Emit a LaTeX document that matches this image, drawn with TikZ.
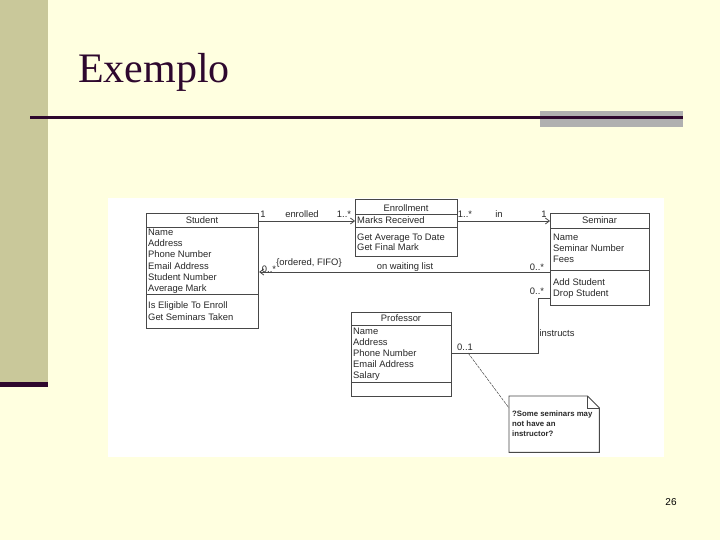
\documentclass[tikz,border=0pt]{standalone}
\usepackage{fontspec}
\setmainfont{Liberation Serif}
\setsansfont{Liberation Sans}
\usetikzlibrary{arrows.meta,calc}
\definecolor{bg}{RGB}{255,255,224}
\definecolor{barcol}{RGB}{201,200,154}
\definecolor{plum}{RGB}{46,8,46}
\definecolor{grayrect}{RGB}{176,176,176}
\definecolor{umlline}{RGB}{72,72,72}
\definecolor{umltext}{RGB}{40,40,40}
\begin{document}
\begin{tikzpicture}[x=1pt,y=-1pt,
  cls/.style={draw=umlline, line width=1.1pt, fill=white, inner sep=0pt, anchor=north west},
  divline/.style={draw=umlline, line width=0.9pt},
  txt/.style={font=\sffamily\fontsize{9.4}{11}\selectfont, text=umltext, inner sep=0pt},
  notetxt/.style={font=\sffamily\bfseries\fontsize{7.8}{10}\selectfont, text=umltext, inner sep=0pt, anchor=base west},
  assoc/.style={draw=umlline, line width=0.8pt},
  nav/.style={assoc, -{Straight Barb[length=4pt,width=6pt]}},
  anchorline/.style={draw=umlline, line width=0.5pt, dash pattern=on 3pt off 1pt},
  notebox/.style={draw=umlline, line width=0.9pt, fill=white}
]
\useasboundingbox (0,0) rectangle (720,540);
% slide background
\fill[bg] (0,0) rectangle (720,540);
\fill[barcol] (0,0) rectangle (48,382);
\fill[plum] (0,382) rectangle (48,387);
\fill[grayrect] (540,111) rectangle (683,127);
\fill[plum] (30,116) rectangle (683,119);
\node[font=\fontsize{42}{46}\selectfont, text=plum, inner sep=0pt, anchor=base west] (title) at (78,83) {Exemplo};
\node[font=\sffamily\fontsize{10}{12}\selectfont, text=black, inner sep=0pt, anchor=base] (pagenum) at (671,505) {26};
% diagram area
\fill[white] (108,198) rectangle (664,457);

% ---------- Student ----------
\node[cls, minimum width=112pt, minimum height=115pt] (student) at (146,213) {};
\draw[divline] (146,227) -- (258,227);
\draw[divline] (146,294) -- (258,294);
\node[txt, anchor=base] (stt) at (202,223.5) {Student};
\foreach \t [count=\i] in {Name, Address, Phone Number, Email Address, Student Number, Average Mark}
  \node[txt, anchor=base west] (sta\i) at (148,{235.5+11.2*(\i-1)}) {\t};
\node[txt, anchor=base west] (stm1) at (148,308.5) {Is Eligible To Enroll};
\node[txt, anchor=base west] (stm2) at (148,320) {Get Seminars Taken};

% ---------- Enrollment ----------
\node[cls, minimum width=102pt, minimum height=57pt] (enrollment) at (355,199) {};
\draw[divline] (355,214) -- (457,214);
\draw[divline] (355,227) -- (457,227);
\node[txt, anchor=base] (ent) at (406,211.3) {Enrollment};
\node[txt, anchor=base west] (ena1) at (357,223.5) {Marks Received};
\node[txt, anchor=base west] (enm1) at (357,240.5) {Get Average To Date};
\node[txt, anchor=base west] (enm2) at (357,251) {Get Final Mark};

% ---------- Seminar ----------
\node[cls, minimum width=99pt, minimum height=92pt] (seminar) at (550,213) {};
\draw[divline] (550,228) -- (649,228);
\draw[divline] (550,270) -- (649,270);
\node[txt, anchor=base] (set) at (599.5,223.5) {Seminar};
\node[txt, anchor=base west] (sea1) at (553,240.5) {Name};
\node[txt, anchor=base west] (sea2) at (553,251.3) {Seminar Number};
\node[txt, anchor=base west] (sea3) at (553,262) {Fees};
\node[txt, anchor=base west] (sem1) at (553,285.5) {Add Student};
\node[txt, anchor=base west] (sem2) at (553,296.5) {Drop Student};

% ---------- Professor ----------
\node[cls, minimum width=100pt, minimum height=84pt] (professor) at (351,312) {};
\draw[divline] (351,325) -- (451,325);
\draw[divline] (351,382) -- (451,382);
\node[txt, anchor=base] (prt) at (401,321.5) {Professor};
\foreach \t [count=\i] in {Name, Address, Phone Number, Email Address, Salary}
  \node[txt, anchor=base west] (pra\i) at (353,{334.5+11*(\i-1)}) {\t};

% ---------- Note ----------
\node[inner sep=0pt, minimum width=90pt, minimum height=56pt, anchor=north west] (note) at (509,396) {};
\draw[notebox] (note.north west) -- ([xshift=-12pt]note.north east) -- ([yshift=-12pt]note.north east)
  -- (note.south east) -- (note.south west) -- cycle;
\draw[divline, line width=0.6pt] ([xshift=-12pt]note.north east) -- ++(0,12) -- ([yshift=-12pt]note.north east);
\node[notetxt] (nt1) at (512,416) {?Some seminars may};
\node[notetxt] (nt2) at (512,426) {not have an};
\node[notetxt] (nt3) at (512,436) {instructor?};

% ---------- Connectors ----------
\coordinate (c1) at ([yshift=-8pt]student.north east);
\draw[nav] (c1) -- (c1 -| enrollment.west);
\coordinate (c2) at ([yshift=-22pt]enrollment.north east);
\draw[nav] (c2) -- (c2 -| seminar.west);
\coordinate (c3) at ([yshift=-59pt]seminar.north west);
\draw[nav] (c3) -- (c3 -| student.east);
\coordinate (c4) at ([yshift=-85pt]seminar.north west);
\coordinate (c5) at ([yshift=-41pt]professor.north east);
\draw[assoc] (c4) -- ++(-12,0) |- (c5);
\coordinate (c6) at ($(c5)+(16,0)$);
\draw[anchorline] (c6) -- ([yshift=-12pt]note.north west);

% ---------- Labels ----------
\node[txt] (l1) at (263,214) {1};
\node[txt] (l2) at (302,214) {enrolled};
\node[txt] (l3) at (344,214) {1..*};
\node[txt] (l4) at (465,214) {1..*};
\node[txt] (l5) at (499,214) {in};
\node[txt] (l6) at (544,214) {1};
\node[txt] (l7) at (269,269) {0..*};
\node[txt] (l8) at (309,263) {\{ordered, FIFO\}};
\node[txt] (l9) at (405,267) {on waiting list};
\node[txt] (l10) at (537,267) {0..*};
\node[txt] (l11) at (537,291) {0..*};
\node[txt] (l12) at (557,333) {instructs};
\node[txt] (l13) at (465,347) {0..1};
\end{tikzpicture}
\end{document}
